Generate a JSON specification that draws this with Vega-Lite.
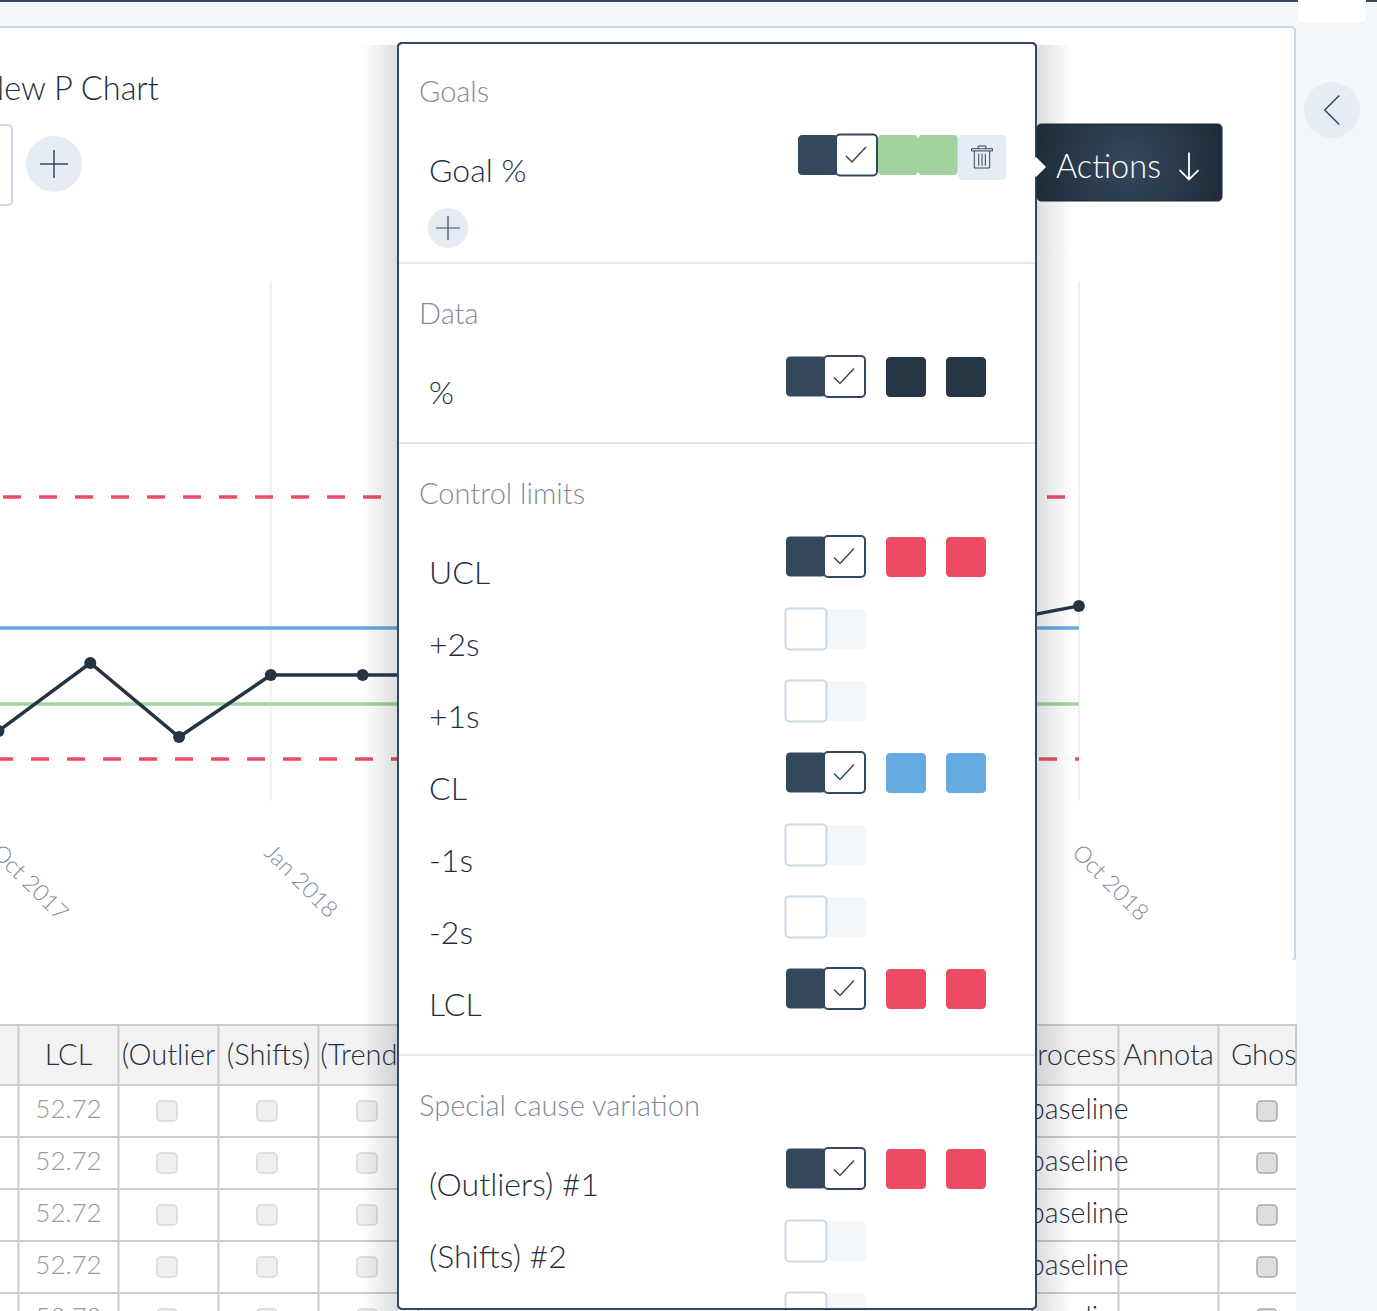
{
  "$schema": "https://vega.github.io/schema/vega-lite/v6.json",
  "description": "P chart screenshot with its chart format popup",
  "width": 1377, "height": 1311,
  "autosize": {"type": "none"},
  "padding": 0,
  "background": "#f4f7fa",
  "config": {"view": {"stroke": null}, "font": "Lato"},
  "resolve": {"scale": {"x": "independent", "y": "independent", "color": "independent"}},
  "layer": [
    {"data": {"values": [{"part": "topbar"}]}, "mark": {"type": "rect", "width": 1377, "height": 3, "fill": "#34495e"},
     "encoding": {"x": {"field": "part", "type": "nominal", "axis": null, "scale": {"type": "point", "padding": 0, "range": [688.5, 688.5]}},
                  "y": {"field": "part", "type": "nominal", "axis": null, "scale": {"type": "point", "padding": 0, "range": [0.5, 0.5]}}}},
    {"data": {"values": [{"part": "tab"}]}, "mark": {"type": "rect", "width": 68, "height": 42, "fill": "#ffffff", "cornerRadius": 5},
     "encoding": {"x": {"field": "part", "type": "nominal", "axis": null, "scale": {"type": "point", "padding": 0, "range": [1332, 1332]}},
                  "y": {"field": "part", "type": "nominal", "axis": null, "scale": {"type": "point", "padding": 0, "range": [1, 1]}}}},
    {"data": {"values": [{"part": "card"}]}, "mark": {"type": "rect", "width": 1315, "height": 934, "fill": "#ffffff", "stroke": "#ccd7e4", "strokeWidth": 2, "cornerRadius": 4},
     "encoding": {"x": {"field": "part", "type": "nominal", "axis": null, "scale": {"type": "point", "padding": 0, "range": [637.5, 637.5]}},
                  "y": {"field": "part", "type": "nominal", "axis": null, "scale": {"type": "point", "padding": 0, "range": [494, 494]}}}},
    {"data": {"values": [{"part": "lower"}]}, "mark": {"type": "rect", "width": 1316, "height": 360, "fill": "#ffffff"},
     "encoding": {"x": {"field": "part", "type": "nominal", "axis": null, "scale": {"type": "point", "padding": 0, "range": [638, 638]}},
                  "y": {"field": "part", "type": "nominal", "axis": null, "scale": {"type": "point", "padding": 0, "range": [1140, 1140]}}}},
    {"data": {"values": [{"part": "New P Chart"}]}, "mark": {"type": "text", "align": "right", "baseline": "middle", "fontSize": 32.5, "fontWeight": 300, "fill": "#1f2f3f"},
     "encoding": {"text": {"field": "part"},
                  "x": {"field": "part", "type": "nominal", "axis": null, "scale": {"type": "point", "padding": 0, "range": [159, 159]}},
                  "y": {"field": "part", "type": "nominal", "axis": null, "scale": {"type": "point", "padding": 0, "range": [90, 90]}}}},
    {"data": {"values": [{"part": "input"}]}, "mark": {"type": "rect", "width": 40, "height": 80, "fill": "#ffffff", "stroke": "#ccd7e4", "strokeWidth": 2, "cornerRadius": 4},
     "encoding": {"x": {"field": "part", "type": "nominal", "axis": null, "scale": {"type": "point", "padding": 0, "range": [-8, -8]}},
                  "y": {"field": "part", "type": "nominal", "axis": null, "scale": {"type": "point", "padding": 0, "range": [165, 165]}}}},
    {"data": {"values": [{"part": "add"}, {"part": "back"}]},
     "encoding": {"x": {"field": "part", "type": "nominal", "axis": null, "scale": {"type": "point", "padding": 0, "domain": ["add", "back"], "range": [54, 1332]}},
                  "y": {"field": "part", "type": "nominal", "axis": null, "scale": {"type": "point", "padding": 0, "domain": ["add", "back"], "range": [164, 110]}}},
     "layer": [
       {"mark": {"type": "point", "shape": "circle", "size": 3136, "filled": true, "fill": "#e6ecf3", "opacity": 1}},
       {"transform": [{"filter": "datum.part == 'add'"}], "mark": {"type": "point", "shape": "M-1,0L1,0M0,-1L0,1", "size": 784, "filled": false, "stroke": "#34495e", "strokeWidth": 1.5, "opacity": 1}},
       {"transform": [{"filter": "datum.part == 'back'"}], "mark": {"type": "point", "shape": "M0.5,-1L-0.5,0L0.5,1", "size": 841, "filled": false, "stroke": "#34495e", "strokeWidth": 1.5, "opacity": 1}}
     ]},
    {"data": {"values": [
       {"date": "2017-10-01", "pct": 56.43, "UCL": 87.42, "CL": 70.07, "Goal": 60, "LCL": 52.72},
       {"date": "2017-11-01", "pct": 65.44, "UCL": 87.42, "CL": 70.07, "Goal": 60, "LCL": 52.72},
       {"date": "2017-12-01", "pct": 55.63, "UCL": 87.42, "CL": 70.07, "Goal": 60, "LCL": 52.72},
       {"date": "2018-01-01", "pct": 63.85, "UCL": 87.42, "CL": 70.07, "Goal": 60, "LCL": 52.72},
       {"date": "2018-02-01", "pct": 63.85, "UCL": 87.42, "CL": 70.07, "Goal": 60, "LCL": 52.72},
       {"date": "2018-03-01", "pct": 63.85, "UCL": 87.42, "CL": 70.07, "Goal": 60, "LCL": 52.72},
       {"date": "2018-04-01", "pct": 67.16, "UCL": 87.42, "CL": 70.07, "Goal": 60, "LCL": 52.72},
       {"date": "2018-05-01", "pct": 60.53, "UCL": 87.42, "CL": 70.07, "Goal": 60, "LCL": 52.72},
       {"date": "2018-06-01", "pct": 68.48, "UCL": 87.42, "CL": 70.07, "Goal": 60, "LCL": 52.72},
       {"date": "2018-07-01", "pct": 63.18, "UCL": 87.42, "CL": 70.07, "Goal": 60, "LCL": 52.72},
       {"date": "2018-08-01", "pct": 65.83, "UCL": 87.42, "CL": 70.07, "Goal": 60, "LCL": 52.72},
       {"date": "2018-09-01", "pct": 70.73, "UCL": 87.42, "CL": 70.07, "Goal": 60, "LCL": 52.72},
       {"date": "2018-10-01", "pct": 73.0, "UCL": 87.42, "CL": 70.07, "Goal": 60, "LCL": 52.72}
     ]},
     "encoding": {"x": {"field": "date", "type": "temporal", "axis": null, "scale": {"domain": ["2017-10-01T12:00:00Z", "2019-01-09T17:00:00Z"]}}},
     "layer": [
       {"data": {"values": [{"date": "2017-10-01", "tick": "Oct 2017"}, {"date": "2018-01-01", "tick": "Jan 2018"}, {"date": "2018-10-01", "tick": "Oct 2018"}]},
        "layer": [
          {"mark": {"type": "rule", "stroke": "#e9ecef", "strokeWidth": 1.5},
           "encoding": {"y": {"datum": 116, "type": "quantitative", "axis": null, "scale": {"domain": [-20.39, 153.25], "nice": false, "zero": false}}, "y2": {"datum": 47.16}}},
          {"mark": {"type": "text", "angle": 45, "align": "left", "baseline": "middle", "fontSize": 23, "fontWeight": 300, "fill": "#808c99", "xOffset": -3},
           "encoding": {"text": {"field": "tick"}, "y": {"datum": 40.8, "type": "quantitative", "axis": null, "scale": {"domain": [-20.39, 153.25], "nice": false, "zero": false}}}}
        ]},
       {"mark": {"type": "line", "stroke": "#a3d39c", "strokeWidth": 3.5}, "encoding": {"y": {"field": "Goal", "type": "quantitative", "axis": null, "scale": {"domain": [-20.39, 153.25], "nice": false, "zero": false}}}},
       {"mark": {"type": "line", "stroke": "#62aadf", "strokeWidth": 3.5}, "encoding": {"y": {"field": "CL", "type": "quantitative", "axis": null, "scale": {"domain": [-20.39, 153.25], "nice": false, "zero": false}}}},
       {"mark": {"type": "line", "stroke": "#ed4a63", "strokeWidth": 3.5, "strokeDash": [18, 18], "strokeDashOffset": 31.5}, "encoding": {"y": {"field": "UCL", "type": "quantitative", "axis": null, "scale": {"domain": [-20.39, 153.25], "nice": false, "zero": false}}}},
       {"mark": {"type": "line", "stroke": "#ed4a63", "strokeWidth": 3.5, "strokeDash": [18, 18], "strokeDashOffset": 3.5}, "encoding": {"y": {"field": "LCL", "type": "quantitative", "axis": null, "scale": {"domain": [-20.39, 153.25], "nice": false, "zero": false}}}},
       {"mark": {"type": "line", "stroke": "#243444", "strokeWidth": 3.5}, "encoding": {"y": {"field": "pct", "type": "quantitative", "axis": null, "scale": {"domain": [-20.39, 153.25], "nice": false, "zero": false}}}},
       {"mark": {"type": "point", "shape": "circle", "size": 144, "filled": true, "fill": "#243444", "opacity": 1}, "encoding": {"y": {"field": "pct", "type": "quantitative", "axis": null, "scale": {"domain": [-20.39, 153.25], "nice": false, "zero": false}}}}
     ]},
    {"data": {"values": [
       {"row": "head", "col": "CL", "part": "head", "text": "CL"},
       {"row": "head", "col": "LCL", "part": "head", "text": "LCL"},
       {"row": "head", "col": "Outliers", "part": "head", "text": "(Outlier"},
       {"row": "head", "col": "Shifts", "part": "head", "text": "(Shifts)"},
       {"row": "head", "col": "Trends", "part": "head", "text": "(Trends)"},
       {"row": "head", "col": "Process", "part": "head", "text": "Process"},
       {"row": "head", "col": "Annotations", "part": "head", "text": "Annota"},
       {"row": "1", "col": "CL", "part": "value", "text": "70.25"},
       {"row": "2", "col": "CL", "part": "value", "text": "70.25"},
       {"row": "3", "col": "CL", "part": "value", "text": "70.23"},
       {"row": "4", "col": "CL", "part": "value", "text": "70.25"},
       {"row": "5", "col": "CL", "part": "value", "text": "70.25"},
       {"row": "1", "col": "LCL", "part": "value", "text": "52.72"},
       {"row": "2", "col": "LCL", "part": "value", "text": "52.72"},
       {"row": "3", "col": "LCL", "part": "value", "text": "52.72"},
       {"row": "4", "col": "LCL", "part": "value", "text": "52.72"},
       {"row": "5", "col": "LCL", "part": "value", "text": "52.72"},
       {"row": "1", "col": "Process", "part": "process", "text": "baseline"},
       {"row": "2", "col": "Process", "part": "process", "text": "baseline"},
       {"row": "3", "col": "Process", "part": "process", "text": "baseline"},
       {"row": "4", "col": "Process", "part": "process", "text": "baseline"},
       {"row": "5", "col": "Process", "part": "process", "text": "baseline"},
       {"row": "1", "col": "Outliers", "part": "box"}, {"row": "2", "col": "Outliers", "part": "box"}, {"row": "3", "col": "Outliers", "part": "box"}, {"row": "4", "col": "Outliers", "part": "box"}, {"row": "5", "col": "Outliers", "part": "box"},
       {"row": "1", "col": "Shifts", "part": "box"}, {"row": "2", "col": "Shifts", "part": "box"}, {"row": "3", "col": "Shifts", "part": "box"}, {"row": "4", "col": "Shifts", "part": "box"}, {"row": "5", "col": "Shifts", "part": "box"},
       {"row": "1", "col": "Trends", "part": "box"}, {"row": "2", "col": "Trends", "part": "box"}, {"row": "3", "col": "Trends", "part": "box"}, {"row": "4", "col": "Trends", "part": "box"}, {"row": "5", "col": "Trends", "part": "box"},
       {"row": "1", "col": "Ghost", "part": "ghost"}, {"row": "2", "col": "Ghost", "part": "ghost"}, {"row": "3", "col": "Ghost", "part": "ghost"}, {"row": "4", "col": "Ghost", "part": "ghost"}, {"row": "5", "col": "Ghost", "part": "ghost"},
       {"row": "head", "col": "c3", "part": "band"},
       {"row": "1", "col": "c3", "part": "hline"}, {"row": "2", "col": "c3", "part": "hline"}, {"row": "3", "col": "c3", "part": "hline"}, {"row": "4", "col": "c3", "part": "hline"}, {"row": "5", "col": "c3", "part": "hline"},
       {"row": "2", "col": "LCL", "part": "vline"}, {"row": "2", "col": "Outliers", "part": "vline"}, {"row": "2", "col": "Shifts", "part": "vline"}, {"row": "2", "col": "Trends", "part": "vline"}, {"row": "2", "col": "Process", "part": "vline"}, {"row": "2", "col": "Annotations", "part": "vline"}
     ]},
     "encoding": {
       "x": {"field": "col", "type": "nominal", "axis": null, "scale": {"type": "point", "padding": 0, "domain": ["CL", "LCL", "Outliers", "Shifts", "Trends", "c1", "c2", "c3", "c4", "c5", "c6", "Process", "Annotations", "Ghost"], "range": [-31.5, 1268.5]}},
       "y": {"field": "row", "type": "nominal", "axis": null, "scale": {"type": "point", "padding": 0, "domain": ["head", "1", "2", "3", "4", "5"], "range": [1057, 1317]}}
     },
     "layer": [
       {"transform": [{"filter": "datum.part == 'band'"}], "mark": {"type": "rect", "width": 1300, "height": 60, "fill": "#f2f2f2", "stroke": "#cccccc", "strokeWidth": 2, "xOffset": -22.5, "yOffset": -2}},
       {"transform": [{"filter": "datum.part == 'hline'"}], "mark": {"type": "rect", "width": 1300, "height": 2, "fill": "#cccccc", "xOffset": -22.5, "yOffset": -24}},
       {"transform": [{"filter": "datum.part == 'vline'"}], "mark": {"type": "rect", "width": 2, "height": 288, "fill": "#cccccc", "xOffset": 50, "yOffset": 8}},
       {"transform": [{"filter": "datum.part == 'vline' && datum.col == 'LCL'"}], "mark": {"type": "rect", "width": 2, "height": 288, "fill": "#cccccc", "xOffset": -50, "yOffset": 8}},
       {"transform": [{"filter": "datum.part == 'head'"}], "mark": {"type": "text", "align": "center", "baseline": "middle", "fontSize": 29, "fontWeight": 300, "fill": "#1f2f3f", "yOffset": -1}, "encoding": {"text": {"field": "text"}}},
       {"transform": [{"filter": "datum.part == 'value'"}], "mark": {"type": "text", "align": "center", "baseline": "middle", "fontSize": 26, "fontWeight": 300, "fill": "#999999", "yOffset": 1}, "encoding": {"text": {"field": "text"}}},
       {"transform": [{"filter": "datum.part == 'process'"}], "mark": {"type": "text", "align": "left", "baseline": "middle", "fontSize": 28.5, "fontWeight": 300, "fill": "#1f2f3f", "xOffset": -39.5, "yOffset": 1}, "encoding": {"text": {"field": "text"}}},
       {"transform": [{"filter": "datum.part == 'box'"}], "mark": {"type": "rect", "width": 20, "height": 20, "fill": "#efefef", "stroke": "#d6d6d6", "strokeWidth": 1.5, "cornerRadius": 4, "xOffset": -1.5, "yOffset": 2}},
       {"transform": [{"filter": "datum.part == 'ghost'"}], "mark": {"type": "rect", "width": 20, "height": 20, "fill": "#dddddd", "stroke": "#a9a9a9", "strokeWidth": 1.5, "cornerRadius": 4, "xOffset": -1.5, "yOffset": 2}}
     ]},
    {"data": {"values": [{"part": "Ghos"}]}, "mark": {"type": "text", "align": "left", "baseline": "middle", "fontSize": 29, "fontWeight": 300, "fill": "#1f2f3f"},
     "encoding": {"text": {"field": "part"},
                  "x": {"field": "part", "type": "nominal", "axis": null, "scale": {"type": "point", "padding": 0, "range": [1231, 1231]}},
                  "y": {"field": "part", "type": "nominal", "axis": null, "scale": {"type": "point", "padding": 0, "range": [1056, 1056]}}}},
    {"data": {"values": [{"part": "shadow left"}]}, "mark": {"type": "rect", "width": 36, "height": 1270, "fill": {"gradient": "linear", "x1": 0, "x2": 1, "y1": 0, "y2": 0, "stops": [{"offset": 0, "color": "rgba(40,50,60,0)"}, {"offset": 1, "color": "rgba(40,50,60,0.17)"}]}},
     "encoding": {"x": {"field": "part", "type": "nominal", "axis": null, "scale": {"type": "point", "padding": 0, "range": [380, 380]}},
                  "y": {"field": "part", "type": "nominal", "axis": null, "scale": {"type": "point", "padding": 0, "range": [680, 680]}}}},
    {"data": {"values": [{"part": "shadow right"}]}, "mark": {"type": "rect", "width": 36, "height": 1270, "fill": {"gradient": "linear", "x1": 0, "x2": 1, "y1": 0, "y2": 0, "stops": [{"offset": 0, "color": "rgba(40,50,60,0.17)"}, {"offset": 1, "color": "rgba(40,50,60,0)"}]}},
     "encoding": {"x": {"field": "part", "type": "nominal", "axis": null, "scale": {"type": "point", "padding": 0, "range": [1054, 1054]}},
                  "y": {"field": "part", "type": "nominal", "axis": null, "scale": {"type": "point", "padding": 0, "range": [680, 680]}}}},
    {"data": {"values": [{"part": "popup"}]}, "mark": {"type": "rect", "width": 638, "height": 1266, "fill": "#ffffff", "stroke": "#34495e", "strokeWidth": 2, "cornerRadius": 4},
     "encoding": {"x": {"field": "part", "type": "nominal", "axis": null, "scale": {"type": "point", "padding": 0, "range": [717, 717]}},
                  "y": {"field": "part", "type": "nominal", "axis": null, "scale": {"type": "point", "padding": 0, "range": [676, 676]}}}},
    {"data": {"values": [
       {"row": "Goals", "slot": "text", "part": "goalheader"},
       {"row": "Goal %", "slot": "text", "part": "goallabel"},
       {"row": "Goal %", "slot": "knob", "part": "goalon"},
       {"row": "Goal %", "slot": "color1", "part": "goal1", "series": "goal"},
       {"row": "Goal %", "slot": "color2", "part": "goal2", "series": "goal"},
       {"row": "Goal %", "slot": "color2", "part": "trash"},
       {"row": "add", "slot": "text", "part": "add"},
       {"row": "rule1", "slot": "d", "part": "divider"},
       {"row": "rule2", "slot": "d", "part": "divider"},
       {"row": "rule3", "slot": "d", "part": "divider"},
       {"row": "Data", "slot": "text", "part": "header"},
       {"row": "Control limits", "slot": "text", "part": "header"},
       {"row": "Special cause variation", "slot": "text", "part": "header"},
       {"row": "%", "slot": "text", "part": "label"},
       {"row": "UCL", "slot": "text", "part": "label"},
       {"row": "+2s", "slot": "text", "part": "label"},
       {"row": "+1s", "slot": "text", "part": "label"},
       {"row": "CL", "slot": "text", "part": "label"},
       {"row": "-1s", "slot": "text", "part": "label"},
       {"row": "-2s", "slot": "text", "part": "label"},
       {"row": "LCL", "slot": "text", "part": "label"},
       {"row": "(Outliers) #1", "slot": "text", "part": "label"},
       {"row": "(Shifts) #2", "slot": "text", "part": "label"},
       {"row": "%", "slot": "knob", "part": "on"},
       {"row": "UCL", "slot": "knob", "part": "on"},
       {"row": "CL", "slot": "knob", "part": "on"},
       {"row": "LCL", "slot": "knob", "part": "on"},
       {"row": "(Outliers) #1", "slot": "knob", "part": "on"},
       {"row": "+2s", "slot": "knob", "part": "off"},
       {"row": "+1s", "slot": "knob", "part": "off"},
       {"row": "-1s", "slot": "knob", "part": "off"},
       {"row": "-2s", "slot": "knob", "part": "off"},
       {"row": "(Shifts) #2", "slot": "knob", "part": "off"},
       {"row": "(Trends) #3", "slot": "knob", "part": "off"},
       {"row": "%", "slot": "color1", "part": "swatch", "series": "data"},
       {"row": "%", "slot": "color2", "part": "swatch", "series": "data"},
       {"row": "UCL", "slot": "color1", "part": "swatch", "series": "limit"},
       {"row": "UCL", "slot": "color2", "part": "swatch", "series": "limit"},
       {"row": "CL", "slot": "color1", "part": "swatch", "series": "center"},
       {"row": "CL", "slot": "color2", "part": "swatch", "series": "center"},
       {"row": "LCL", "slot": "color1", "part": "swatch", "series": "limit"},
       {"row": "LCL", "slot": "color2", "part": "swatch", "series": "limit"},
       {"row": "(Outliers) #1", "slot": "color1", "part": "swatch", "series": "limit"},
       {"row": "(Outliers) #1", "slot": "color2", "part": "swatch", "series": "limit"}
     ]},
     "encoding": {
       "x": {"field": "slot", "type": "nominal", "axis": null, "scale": {"type": "point", "padding": 0, "domain": ["text", "a", "b", "c", "d", "e", "f", "knob", "color1", "color2"], "range": [426, 966]}},
       "y": {"field": "row", "type": "nominal", "axis": null, "scale": {"type": "point", "padding": 0, "domain": ["Goals", "g1", "Goal %", "g2", "add", "rule1", "Data", "d1", "%", "d2", "rule2", "Control limits", "c1", "UCL", "c2", "+2s", "c3", "+1s", "c4", "CL", "c5", "-1s", "c6", "-2s", "c7", "LCL", "c8", "rule3", "Special cause variation", "s1", "(Outliers) #1", "s2", "(Shifts) #2", "s3", "(Trends) #3"], "range": [89, 1313]}}
     },
     "layer": [
       {"transform": [{"filter": "datum.part == 'divider'"}], "mark": {"type": "rect", "width": 636, "height": 2, "fill": "#e1e5ee", "xOffset": 51, "yOffset": -6}},
       {"transform": [{"filter": "datum.part == 'goalheader'"}], "mark": {"type": "text", "align": "left", "baseline": "middle", "fontSize": 29, "fontWeight": 300, "fill": "#7f8c99", "dx": -7, "dy": 4}, "encoding": {"text": {"field": "row"}}},
       {"transform": [{"filter": "datum.part == 'header'"}], "mark": {"type": "text", "align": "left", "baseline": "middle", "fontSize": 29, "fontWeight": 300, "fill": "#7f8c99", "dx": -7, "dy": 10}, "encoding": {"text": {"field": "row"}}},
       {"transform": [{"filter": "datum.part == 'goallabel'"}], "mark": {"type": "text", "align": "left", "baseline": "middle", "fontSize": 32, "fontWeight": 300, "fill": "#1f2f3f", "dx": 3, "dy": 11}, "encoding": {"text": {"field": "row"}}},
       {"transform": [{"filter": "datum.part == 'label'"}], "mark": {"type": "text", "align": "left", "baseline": "middle", "fontSize": 32, "fontWeight": 300, "fill": "#1f2f3f", "dx": 3, "dy": 17}, "encoding": {"text": {"field": "row"}}},
       {"transform": [{"filter": "datum.part == 'add'"}], "mark": {"type": "point", "shape": "circle", "size": 1600, "filled": true, "fill": "#e6ecf3", "opacity": 1, "xOffset": 22, "yOffset": -5}},
       {"transform": [{"filter": "datum.part == 'add'"}], "mark": {"type": "point", "shape": "M-1,0L1,0M0,-1L0,1", "size": 576, "filled": false, "stroke": "#34495e", "strokeWidth": 1.2, "opacity": 1, "xOffset": 22, "yOffset": -5}},
       {"transform": [{"filter": "datum.part == 'on'"}], "mark": {"type": "rect", "width": 40, "height": 40, "fill": "#34495e", "cornerRadius": 4, "xOffset": -40, "yOffset": -0.5}},
       {"transform": [{"filter": "datum.part == 'on'"}], "mark": {"type": "rect", "width": 41, "height": 41, "fill": "#ffffff", "stroke": "#34495e", "strokeWidth": 2, "cornerRadius": 4, "xOffset": -1.5, "yOffset": -0.5}},
       {"transform": [{"filter": "datum.part == 'on'"}], "mark": {"type": "point", "shape": "M-1,0.1L-0.4,0.7L1,-0.8", "size": 400, "filled": false, "stroke": "#34495e", "strokeWidth": 1.5, "opacity": 1, "xOffset": -2, "yOffset": -0.5}},
       {"transform": [{"filter": "datum.part == 'off'"}], "mark": {"type": "rect", "width": 40, "height": 40, "fill": "#f4f7fa", "cornerRadius": 4}},
       {"transform": [{"filter": "datum.part == 'off'"}], "mark": {"type": "rect", "width": 41, "height": 41, "fill": "#ffffff", "stroke": "#ccd7e4", "strokeWidth": 2, "cornerRadius": 4, "xOffset": -40}},
       {"transform": [{"filter": "datum.part == 'swatch'"}], "mark": {"type": "rect", "width": 40, "height": 40, "cornerRadius": 4},
        "encoding": {"fill": {"field": "series", "type": "nominal", "legend": null, "scale": {"domain": ["goal", "data", "limit", "center"], "range": ["#a3d39c", "#273645", "#ed4a63", "#62aadf"]}}}},
       {"transform": [{"filter": "datum.part == 'goal1'"}], "mark": {"type": "rect", "width": 40, "height": 40, "fill": "#a3d39c", "cornerRadius": 4, "xOffset": -8, "yOffset": -6}},
       {"transform": [{"filter": "datum.part == 'goal2'"}], "mark": {"type": "rect", "width": 40, "height": 40, "fill": "#a3d39c", "cornerRadius": 4, "xOffset": -28, "yOffset": -6}},
       {"transform": [{"filter": "datum.part == 'trash'"}], "mark": {"type": "rect", "width": 49, "height": 45, "fill": "#e6ecf3", "cornerRadius": 4, "xOffset": 16, "yOffset": -3.5}},
       {"transform": [{"filter": "datum.part == 'trash'"}], "mark": {"type": "point", "shape": "M-0.7,-0.55L-0.7,1L0.7,1L0.7,-0.55M-0.95,-0.55L0.95,-0.55L0.95,-0.75L-0.95,-0.75ZM-0.35,-0.75L-0.35,-1L0.35,-1L0.35,-0.75M-0.3,-0.3L-0.3,0.8M0,-0.3L0,0.8M0.3,-0.3L0.3,0.8", "size": 484, "filled": false, "stroke": "#34495e", "strokeWidth": 1, "opacity": 1, "xOffset": 16, "yOffset": -4}},
       {"transform": [{"filter": "datum.part == 'goalon'"}], "mark": {"type": "rect", "width": 40, "height": 40, "fill": "#34495e", "cornerRadius": 4, "xOffset": -28, "yOffset": -6}},
       {"transform": [{"filter": "datum.part == 'goalon'"}], "mark": {"type": "rect", "width": 41, "height": 41, "fill": "#ffffff", "stroke": "#34495e", "strokeWidth": 2, "cornerRadius": 4, "xOffset": 10.5, "yOffset": -6}},
       {"transform": [{"filter": "datum.part == 'goalon'"}], "mark": {"type": "point", "shape": "M-1,0.1L-0.4,0.7L1,-0.8", "size": 400, "filled": false, "stroke": "#34495e", "strokeWidth": 1.5, "opacity": 1, "xOffset": 10, "yOffset": -6}}
     ]},
    {"data": {"values": [{"part": "popup edge"}]}, "mark": {"type": "rect", "width": 638, "height": 1266, "fill": null, "stroke": "#34495e", "strokeWidth": 2, "cornerRadius": 4},
     "encoding": {"x": {"field": "part", "type": "nominal", "axis": null, "scale": {"type": "point", "padding": 0, "range": [717, 717]}},
                  "y": {"field": "part", "type": "nominal", "axis": null, "scale": {"type": "point", "padding": 0, "range": [676, 676]}}}},
    {"data": {"values": [{"part": "button"}]}, "mark": {"type": "rect", "width": 185, "height": 77, "stroke": "#1b2733", "strokeWidth": 1, "cornerRadius": 4, "fill": {"gradient": "radial", "stops": [{"offset": 0, "color": "#34495e"}, {"offset": 1, "color": "#1f2d3b"}]}},
     "encoding": {"x": {"field": "part", "type": "nominal", "axis": null, "scale": {"type": "point", "padding": 0, "range": [1129.5, 1129.5]}},
                  "y": {"field": "part", "type": "nominal", "axis": null, "scale": {"type": "point", "padding": 0, "range": [162.5, 162.5]}}}},
    {"data": {"values": [{"part": "notch"}]}, "mark": {"type": "point", "shape": "M0,-1L1,0L0,1L-1,0Z", "size": 400, "filled": true, "fill": "#ffffff", "opacity": 1},
     "encoding": {"x": {"field": "part", "type": "nominal", "axis": null, "scale": {"type": "point", "padding": 0, "range": [1036, 1036]}},
                  "y": {"field": "part", "type": "nominal", "axis": null, "scale": {"type": "point", "padding": 0, "range": [167, 167]}}}},
    {"data": {"values": [{"part": "Actions"}]}, "mark": {"type": "text", "align": "left", "baseline": "middle", "fontSize": 32.5, "fontWeight": 300, "fill": "#ffffff"},
     "encoding": {"text": {"field": "part"},
                  "x": {"field": "part", "type": "nominal", "axis": null, "scale": {"type": "point", "padding": 0, "range": [1056, 1056]}},
                  "y": {"field": "part", "type": "nominal", "axis": null, "scale": {"type": "point", "padding": 0, "range": [168, 168]}}}},
    {"data": {"values": [{"part": "arrow"}]}, "mark": {"type": "point", "shape": "M0,-1L0,1M-0.7,0.3L0,1L0.7,0.3", "size": 729, "filled": false, "stroke": "#ffffff", "strokeWidth": 1.8, "opacity": 1},
     "encoding": {"x": {"field": "part", "type": "nominal", "axis": null, "scale": {"type": "point", "padding": 0, "range": [1189, 1189]}},
                  "y": {"field": "part", "type": "nominal", "axis": null, "scale": {"type": "point", "padding": 0, "range": [166, 166]}}}}
  ]
}
